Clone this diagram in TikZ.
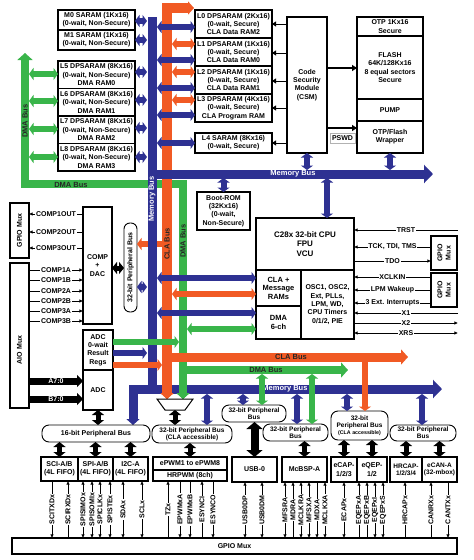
\documentclass[tikz,border=0pt]{standalone}
\usepackage{fontspec}
\setmainfont{Liberation Sans}
\usetikzlibrary{arrows.meta,shapes.geometric,positioning}
\definecolor{memblue}{RGB}{46,49,146}
\definecolor{claorange}{RGB}{241,90,36}
\definecolor{dmagreen}{RGB}{57,181,74}

\begin{document}
\begin{tikzpicture}[x=1pt,y=-1pt,inner sep=0pt,outer sep=0pt,
  font=\fontsize{7}{8.3}\selectfont\bfseries,
  >={Latex[length=3.6pt,width=3.6pt]},
  bt/.tip={Triangle[length=9pt,width=18pt]},
  ht/.tip={Triangle[length=7pt,width=15pt]},
  mt/.tip={Triangle[length=6pt,width=13pt]},
  st/.tip={Triangle[length=4.5pt,width=12pt]},
  kt/.tip={Triangle[length=5pt,width=12pt]},
  blk/.style={draw,line width=1.6pt,anchor=north west,align=center,fill=white},
  pbus/.style={draw,line width=0.9pt,rounded corners=7pt,anchor=north west,align=center,fill=white},
  pfont/.style={font=\fontsize{6.5}{7.2}\selectfont\bfseries},
  bus/.style={line width=9pt},
  link/.style={line width=6pt,st-st},
  plink/.style={line width=5pt,kt-kt},
  sig/.style={line width=0.8pt},
  lbl/.style={fill=white,inner sep=0.7pt},
  vlbl/.style={fill=white,inner sep=0.7pt,rotate=90},
  buslbl/.style={font=\fontsize{7.5}{8}\selectfont\bfseries,text=black!85}]

\fill[white] (0,0) rectangle (474,560);
\useasboundingbox (0,0) rectangle (474,560);

% bus edges
\coordinate (gL) at (29,0);
\coordinate (mL) at (147,0);
\coordinate (mR) at (157,0);
\coordinate (cL) at (162,0);
\coordinate (cR) at (172,0);
\coordinate (dL) at (179,0);
\coordinate (dR) at (187,0);
\coordinate (mbT) at (0,170);
\coordinate (mbU) at (0,178);
\coordinate (cbB) at (0,362);
\coordinate (dbB) at (0,374);
\coordinate (mbB) at (0,394);
\coordinate (xr) at (458,0);

% left memories
\node[blk,minimum width=77,minimum height=20] (M0) at (58,10) {M0 SARAM (1Kx16)\\(0-wait, Non-Secure)};
\node[blk,minimum width=77,minimum height=20] (M1) at (58,30) {M1 SARAM (1Kx16)\\(0-wait, Non-Secure)};
\foreach \i/\y/\r in {5/61/0,6/88.5/1,7/116/2,8/143.5/3}
  \node[blk,minimum width=77,minimum height=27.5] (L\i) at (58,\y) {L\i{} DPSARAM (8Kx16)\\(0-wait, Non-Secure)\\DMA RAM\r};

% CLA memories
\node[blk,minimum width=77,minimum height=28] (L0) at (195,10) {L0 DPSARAM (2Kx16)\\(0-wait, Secure)\\CLA Data RAM2};
\node[blk,minimum width=77,minimum height=28] (L1) at (195,38) {L1 DPSARAM (1Kx16)\\(0-wait, Secure)\\CLA Data RAM0};
\node[blk,minimum width=77,minimum height=28] (L2) at (195,66) {L2 DPSARAM (1Kx16)\\(0-wait, Secure)\\CLA Data RAM1};
\node[blk,minimum width=77,minimum height=28] (L3) at (195,94) {L3 DPSARAM (4Kx16)\\(0-wait, Secure)\\CLA Program RAM};
\node[blk,minimum width=77,minimum height=20] (L4) at (195,133) {L4 SARAM (8Kx16)\\(0-wait, Secure)};

% security and flash
\node[blk,minimum width=40,minimum height=136] (CSM) at (287,17) {Code\\Security\\Module\\(CSM)};
\node[blk,minimum width=66,minimum height=19] (OTP) at (357,17) {OTP 1Kx16\\Secure};
\node[blk,minimum width=66,minimum height=63] (FLASH) at (357,36) {FLASH\\64K/128Kx16\\8 equal sectors\\Secure};
\node[blk,minimum width=66,minimum height=22] (PUMP) at (357,99) {PUMP};
\node[blk,minimum width=66,minimum height=32] (WRAP) at (357,121) {OTP/Flash\\Wrapper};
\node[draw=gray!60,line width=0.6pt,anchor=north west,minimum width=25,minimum height=10] (PSWD) at (330,133) {PSWD};

\node[blk,line width=1.2pt,minimum width=53,minimum height=38] (BOOT) at (197,192) {Boot-ROM\\(32Kx16)\\(0-wait,\\Non-Secure)};

% CPU
\node[blk,minimum width=98,minimum height=52,font=\fontsize{8}{9.5}\selectfont\bfseries] (CPU) at (256,218) {C28x 32-bit CPU\\FPU\\VCU};
\node[blk,minimum width=45,minimum height=36,font=\fontsize{7.5}{8.5}\selectfont\bfseries] (CLA) at (256,270) {CLA +\\Message\\RAMs};
\node[blk,minimum width=45,minimum height=33,font=\fontsize{7.5}{8.5}\selectfont\bfseries] (DMA) at (256,306) {DMA\\6-ch};
\node[blk,minimum width=53,minimum height=69] (OSC) at (301,270) {OSC1, OSC2,\\Ext, PLLs,\\LPM, WD,\\CPU Timers\\0/1/2, PIE};

\node[blk,minimum width=26,minimum height=34] (GPR1) at (431,236) {};
\node[rotate=90,align=center] at (GPR1.center) {GPIO\\Mux};
\node[blk,minimum width=26,minimum height=34] (GPR2) at (431,273) {};
\node[rotate=90,align=center] at (GPR2.center) {GPIO\\Mux};

% analog side
\node[blk,minimum width=19,minimum height=55] (GPL) at (10,203) {};
\node[rotate=90] at (GPL.center) {GPIO Mux};
\node[blk,minimum width=19,minimum height=145] (AIO) at (10,263) {};
\node[rotate=90] at (19.5,350) {AIO Mux};
\node[blk,minimum width=29,minimum height=117] (COMP) at (83,207) {COMP\\+\\DAC};
\node[pbus,rotate=90,anchor=center,minimum width=89,minimum height=13,rounded corners=6pt] (PBV) at (130.5,267.5) {32-bit Peripheral Bus};
\node[blk,minimum width=30,minimum height=40] (ADCR) at (83,330) {ADC\\0-wait\\Result\\Regs};
\node[blk,minimum width=30,minimum height=40] (ADC) at (83,370) {ADC};

% buses
\draw[link,claorange,-st] (cL |- 0,244) -- (PBV.south |- 0,244);
\draw[bus,dmagreen,line width=8pt,ht-mt] (25,53) |- (183,184) -- (183,399);
\draw[bus,claorange,line width=10pt,mt-mt] (167,399) |- (194,8);
\draw[bus,memblue] (152,17) -- (152,389);
\draw[bus,memblue,-bt] (152,174) -- (433,174);
\draw[bus,memblue,mt-bt] (133,425) |- (442,389);
\draw[bus,dmagreen,line width=8pt,-mt] (183,378) -- (183,399);
\draw[bus,claorange,line width=10pt,-mt] (167,378) -- (167,399);
\draw[bus,claorange,-ht] (172,357) -- (408,357);
\draw[bus,dmagreen,line width=8pt,-ht] (183,370) -- (348,370);

\node[buslbl,text=white] at (293,174) {Memory Bus};
\node[buslbl,text=white,rotate=90] at (152,199) {Memory Bus};
\node[buslbl,rotate=90] at (167,244) {CLA Bus};
\node[buslbl,rotate=90] at (183,241) {DMA Bus};
\node[buslbl,rotate=90] at (25,121) {DMA Bus};
\node[buslbl] at (71,185) {DMA Bus};
\node[buslbl] at (291,357) {CLA Bus};
\node[buslbl] at (266,370) {DMA Bus};
\node[buslbl,text=white] at (285,389) {Memory Bus};

% memory links
\foreach \n/\y in {M0/21,M1/40,L5/72,L6/100,L7/128,L8/157}
  \draw[link,memblue] (\n.east |- 0,\y) -- (mL |- 0,\y);
\foreach \n/\y in {L0/27,L1/60,L2/88,L3/115,L4/143}
  \draw[link,memblue] (mR |- 0,\y) -- (\n.west |- 0,\y);
\foreach \n/\y in {L1/44,L2/72,L3/100}
  \draw[link,claorange] (cR |- 0,\y) -- (\n.west |- 0,\y);
\foreach \n/\y in {L5/74,L6/101,L7/129,L8/157}
  \draw[link,dmagreen] (gL |- 0,\y) -- (\n.west |- 0,\y);

\draw[link,memblue] (CSM.south) -- (CSM.south |- mbT);
\draw[link,memblue] (WRAP.south) -- (WRAP.south |- mbT);
\draw[link,memblue] (BOOT.north) -- (BOOT.north |- mbU);
\draw[link,memblue] (CPU.north -| 327,0) -- (327,0 |- mbU);

\foreach \n/\y in {L0/24,L1/53,L2/81,L3/108,L4/143}
  \draw[sig,line width=1pt,-{Triangle[length=4pt,width=5pt]}] (CSM.west |- 0,\y) -- (\n.east |- 0,\y);
\draw[line width=1.3pt,-{Triangle[length=5pt,width=6pt]}] (CSM.east |- 0,68) -- (FLASH.west |- 0,68);
\draw[line width=1.3pt,-{Triangle[length=5pt,width=6pt]}] (CSM.east |- 0,128) -- (WRAP.west |- 0,128);

% CPU links
\draw[link,memblue] (mR |- 0,278) -- (CLA.west |- 0,278);
\draw[link,claorange] (cR |- 0,294) -- (CLA.west |- 0,294);
\draw[link,memblue] (mR |- 0,313) -- (DMA.west |- 0,313);
\draw[link,dmagreen] (dR |- 0,329) -- (DMA.west |- 0,329);
\draw[link,memblue] (mL |- 0,287) -- (PBV.south |- 0,287);

% ADC links
\draw[link,dmagreen,-st] (ADCR.east |- 0,342) -- (dL |- 0,342);
\draw[link,memblue,-st] (ADCR.east |- 0,353) -- (mL |- 0,353);
\draw[link,claorange,-st] (ADCR.east |- 0,365) -- (cL |- 0,365);
\draw[line width=7pt,-{Triangle[length=6pt,width=12pt]}] (AIO.east |- 0,381) -- node[text=white]{A7:0} (ADC.west |- 0,381);
\draw[line width=7pt,-{Triangle[length=6pt,width=12pt]}] (AIO.east |- 0,399) -- node[text=white]{B7:0} (ADC.west |- 0,399);
\draw[plink] (COMP.east |- 0,268) -- (PBV.north |- 0,268);

% comparator signals
\foreach \y/\t in {214/COMP1OUT,232/COMP2OUT,248/COMP3OUT}
  \draw[sig,->] (COMP.west |- 0,\y) -- node[lbl]{\t} (GPL.east |- 0,\y);
\foreach \y/\t in {270/COMP1A,280/COMP1B,291/COMP2A,301/COMP2B,311/COMP3A,321/COMP3B}
  \draw[sig,->] (AIO.east |- 0,\y) -- node[lbl]{\t} (COMP.west |- 0,\y);

% CPU signals
\draw[sig,->] (xr |- 0,230) -- node[lbl]{TRST} (CPU.east |- 0,230);
\draw[sig,->] (GPR1.west |- 0,247) -- node[lbl]{TCK, TDI, TMS} (CPU.east |- 0,247);
\draw[sig,->] (CPU.east |- 0,261) -- node[lbl]{TDO} (GPR1.west |- 0,261);
\draw[sig,->] (GPR2.west |- 0,277) -- node[lbl]{XCLKIN} (OSC.east |- 0,277);
\draw[sig,->] (GPR2.west |- 0,290) -- node[lbl]{LPM Wakeup} (OSC.east |- 0,290);
\draw[sig,->] (GPR2.west |- 0,303) -- node[lbl]{3 Ext. Interrupts} (OSC.east |- 0,303);
\draw[sig,->] (xr |- 0,313) -- node[lbl]{X1} (OSC.east |- 0,313);
\draw[sig,->] (OSC.east |- 0,323) -- node[lbl]{X2} (xr |- 0,323);
\draw[sig,<->] (OSC.east |- 0,333) -- node[lbl]{XRS} (xr |- 0,333);

% peripheral buses
\draw[line width=1pt,fill=white] (157,399) -- (193,399) -- (185,410) -- (165,410) -- cycle;
\coordinate (mux) at (175,410);
\node[pbus,minimum width=108,minimum height=17] (PB16) at (42,425) {16-bit Peripheral Bus};
\node[pbus,pfont,minimum width=80,minimum height=18] (PB32) at (152,425) {32-bit Peripheral Bus\\(CLA accessible)};
\node[pbus,pfont,minimum width=64,minimum height=17] (PBU) at (222,405) {32-bit Peripheral\\Bus};
\node[pbus,pfont,minimum width=65,minimum height=17] (PBM) at (263,424) {32-bit Peripheral\\Bus};
\node[pbus,pfont,minimum width=57,minimum height=29] (PBC) at (331,411) {32-bit\\Peripheral Bus\\{\fontsize{5.3}{6}\selectfont(CLA accessible)}};
\node[pbus,pfont,minimum width=66,minimum height=16] (PBH) at (390,425) {32-bit Peripheral\\Bus};

\foreach \x/\n in {207/PB32,243/PBU,297/PBM,347/PBC,422/PBH}
  \draw[link,memblue] (\x,0 |- mbB) -- (\x,0 |- \n.north);
\foreach \x/\n in {262/PBU,312/PBM}
  \draw[link,dmagreen] (\x,0 |- dbB) -- (\x,0 |- \n.north);
\draw[link,claorange,-st] (365,0 |- cbB) -- (365,0 |- PBC.north);

% peripherals
\node[blk,minimum width=37,minimum height=24] (SCI) at (41,457) {SCI-A/B\\(4L FIFO)};
\node[blk,minimum width=35,minimum height=24] (SPI) at (78,457) {SPI-A/B\\(4L FIFO)};
\node[blk,minimum width=35,minimum height=24] (I2C) at (113,457) {I2C-A\\(4L FIFO)};
\node[blk,minimum width=74,minimum height=13] (EPWM) at (153,457) {ePWM1 to ePWM8};
\node[blk,minimum width=74,minimum height=11] (HRPWM) at (153,470) {HRPWM (8ch)};
\node[blk,minimum width=45,minimum height=25] (USB) at (232,457) {USB-0};
\node[blk,minimum width=45,minimum height=25] (MCBSP) at (282,457) {McBSP-A};
\node[blk,minimum width=26,minimum height=25] (ECAP) at (331,457) {eCAP-\\1/2/3};
\node[blk,minimum width=30,minimum height=25] (EQEP) at (357,457) {eQEP-\\1/2};
\node[blk,pfont,minimum width=32,minimum height=25] (HRCAP) at (390,457) {HRCAP-\\1/2/3/4};
\node[blk,pfont,minimum width=35,minimum height=25] (ECAN) at (422,457) {eCAN-A\\(32-mbox)};
\node[blk,minimum width=445,minimum height=16] (GPIOB) at (12,538) {GPIO Mux};

\draw[plink] (ADC.south) -- (ADC.south |- PB16.north);
\foreach \n in {SCI,SPI,I2C}
  \draw[plink] (\n.north |- PB16.south) -- (\n.north);
\draw[plink] (mux) -- (mux |- PB32.north);
\draw[plink] (EPWM.north |- PB32.south) -- (EPWM.north);
\draw[line width=8pt,{Triangle[length=7pt,width=16pt]}-{Triangle[length=7pt,width=16pt]}] (USB.north |- PBU.south) -- (USB.north);
\draw[plink] (MCBSP.north |- PBM.south) -- (MCBSP.north);
\foreach \n in {ECAP,EQEP}
  \draw[plink] (\n.north |- PBC.south) -- (\n.north);
\foreach \n in {HRCAP,ECAN}
  \draw[plink] (\n.north |- PBH.south) -- (\n.north);

% pins
\foreach \x/\t/\a/\n in {52/SCITXDx/->/SCI,68/SCIRXDx/<-/SCI,
    83/SPISIMOx/<->/SPI,92/SPISOMIx/<->/SPI,100/SPICLKx/<->/SPI,110/SPISTEx/<->/SPI,
    123/SDAx/<->/I2C,142/SCLx/<->/I2C,
    168/TZx/<-/HRPWM,180/EPWMxA/->/HRPWM,190/EPWMxB/->/HRPWM,202/ESYNCI/<-/HRPWM,213/ESYNCO/->/HRPWM,
    245/USB0DP/<->/USB,262/USB0DM/<->/USB,
    285/MFSRA/<->/MCBSP,293/MDRA/<-/MCBSP,301/MCLKRA/<->/MCBSP,309/MFSXA/<->/MCBSP,317/MDXA/->/MCBSP,325/MCLKXA/<->/MCBSP,
    344/ECAPx/<->/ECAP,359/EQEPxA/<-/EQEP,367/EQEPxB/<-/EQEP,375/EQEPxI/<->/EQEP,383/EQEPxS/<->/EQEP,
    405/HRCAPx/<-/HRCAP,431/CANRXx/<-/ECAN,448/CANTXx/->/ECAN}
  \draw[sig,\a] (\x,0 |- \n.south) -- node[vlbl]{\t} (\x,0 |- GPIOB.north);
\end{tikzpicture}
\end{document}
